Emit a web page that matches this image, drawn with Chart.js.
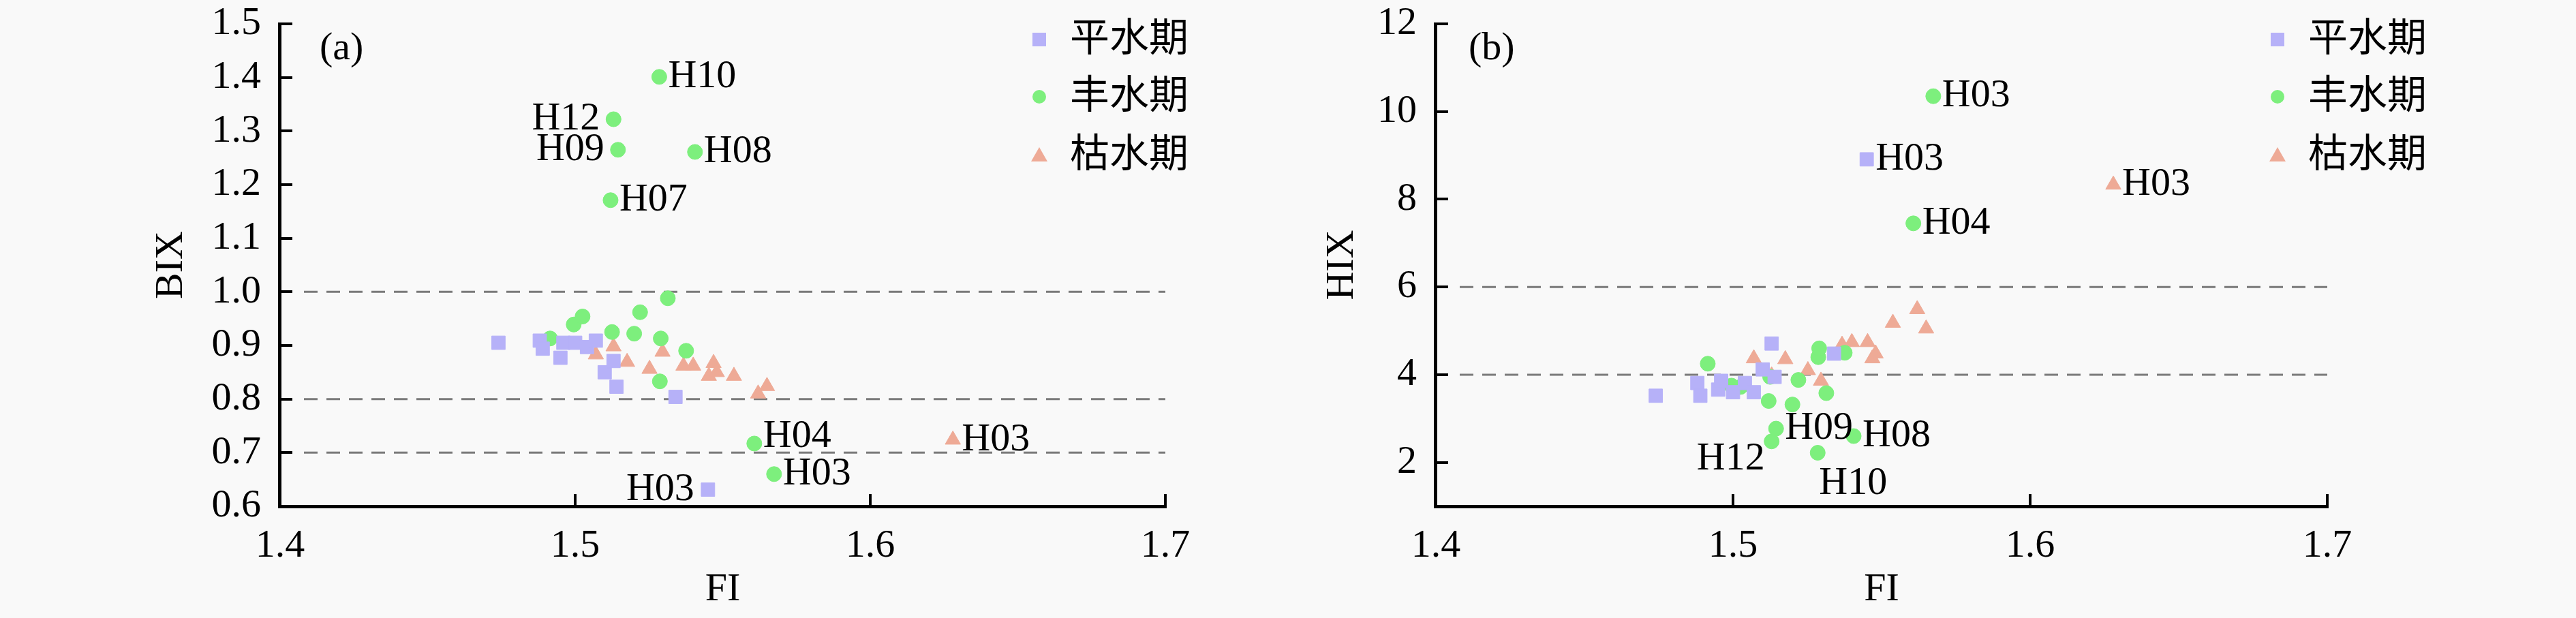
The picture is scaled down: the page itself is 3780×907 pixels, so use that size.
<!DOCTYPE html>
<html><head><meta charset="utf-8">
<script src="https://cdn.jsdelivr.net/npm/chart.js@4.4.0/dist/chart.umd.min.js"></script>
<style>
html,body{margin:0;padding:0;background:#f9f9f9;}
#wrap{width:3780px;height:907px;display:flex;}
canvas{display:block;}
</style></head><body>
<div id="wrap"><canvas id="c1" width="1890" height="907"></canvas><canvas id="c2" width="1890" height="907"></canvas></div>
<script>
// ---------- data ----------
const SERIES_NAMES = ['平水期', '丰水期', '枯水期'];
const FI_TICKS  = [1.4, 1.5, 1.6, 1.7];
const BIX_TICKS = [0.6, 0.7, 0.8, 0.9, 1.0, 1.1, 1.2, 1.3, 1.4, 1.5];
const HIX_TICKS = [2, 4, 6, 8, 10, 12];
const BIX_REF = [0.7, 0.8, 1.0];
const HIX_REF = [4, 6];

// 平水期
const FI_P  = [1.474, 1.488, 1.489, 1.495, 1.496, 1.500, 1.504, 1.507, 1.510, 1.513, 1.514, 1.534, 1.545];
const BIX_P = [0.905, 0.909, 0.894, 0.877, 0.905, 0.905, 0.897, 0.909, 0.850, 0.871, 0.823, 0.804, 0.631];
const HIX_P = [3.52, 3.81, 3.52, 3.66, 3.86, 3.60, 3.81, 3.60, 4.12, 4.71, 3.95, 4.48, 8.91];
const LAB_P_BIX = ['', '', '', '', '', '', '', '', '', '', '', '', 'H03'];
const LAB_P_HIX = ['', '', '', '', '', '', '', '', '', '', '', '', 'H03'];

// 丰水期
const FI_F  = [1.4915, 1.4995, 1.5025, 1.512, 1.5125, 1.513, 1.5145, 1.520, 1.522, 1.5285, 1.5287, 1.529, 1.5314, 1.5376, 1.5406, 1.5607, 1.5674];
const BIX_F = [0.913, 0.939, 0.954, 1.171, 0.925, 1.322, 1.265, 0.922, 0.962, 1.401, 0.833, 0.913, 0.988, 0.890, 1.261, 0.717, 0.660];
const HIX_F = [4.25, 3.75, 3.72, 3.40, 3.95, 2.48, 2.77, 3.32, 3.88, 2.22, 4.40, 4.60, 3.58, 4.50, 2.60, 7.45, 10.35];
const LAB_F_BIX = ['', '', '', 'H07', '', 'H12', 'H09', '', '', 'H10', '', '', '', '', 'H08', 'H04', 'H03'];
const LAB_F_HIX = ['', '', '', '', '', 'H12', 'H09', '', '', 'H10', '', '', '', '', 'H08', 'H04', 'H03'];

// 枯水期
const FI_K  = [1.507, 1.513, 1.5176, 1.5252, 1.5296, 1.5367, 1.540, 1.5453, 1.5469, 1.548, 1.5538, 1.562, 1.565, 1.628];
const BIX_K = [0.883, 0.898, 0.869, 0.856, 0.888, 0.862, 0.862, 0.843, 0.867, 0.850, 0.843, 0.810, 0.824, 0.724];
const HIX_K = [4.37, 3.98, 4.35, 4.10, 3.86, 4.68, 4.74, 4.74, 4.37, 4.48, 5.18, 5.49, 5.05, 8.33];
const LAB_K_BIX = ['', '', '', '', '', '', '', '', '', '', '', '', '', 'H03'];
const LAB_K_HIX = ['', '', '', '', '', '', '', '', '', '', '', '', '', 'H03'];

// ---------- styles ----------
const FONT = "'Liberation Serif','Times New Roman','Noto Sans CJK SC',serif";
const COLORS = ['#b6b1f8', '#7def7d', '#eeaa96'];
const STYLES = ['rect', 'circle', 'triangle'];
const RADII = [14, 11, 13];

function pts(xs, ys) { return xs.map((x, i) => ({x: x, y: ys[i]})); }

function drawAxes(c) {
  const ctx = c.ctx, ca = c.chartArea, xs = c.scales.x, ys = c.scales.y;
  ctx.save();
  ctx.fillStyle = '#000';
  const L = Math.round(ca.left), B = Math.round(ca.bottom), T = Math.round(ca.top), R = Math.round(ca.right);
  ctx.fillRect(L - 3, T - 2, 5, B - T + 4);
  ctx.fillRect(L - 3, B - 2, R - L + 5, 5);
  xs.ticks.forEach(t => {
    const px = Math.round(xs.getPixelForValue(t.value));
    if (px > L + 5) ctx.fillRect(px - 2, B - 18, 4, 18);
  });
  ys.ticks.forEach(t => {
    const py = Math.round(ys.getPixelForValue(t.value));
    if (py < B - 5) ctx.fillRect(L, py - 2, 18, 4);
  });
  ctx.restore();
}

const bgPlugin = {
  id: 'bgfill',
  beforeDraw(c) { const ctx = c.ctx; ctx.save(); ctx.fillStyle = '#f9f9f9'; ctx.fillRect(0, 0, c.width, c.height); ctx.restore(); }
};

const refPlugin = {
  id: 'refLines',
  beforeDatasetsDraw(c, a, o) {
    const ctx = c.ctx, ys = c.scales.y, ca = c.chartArea;
    ctx.save();
    ctx.strokeStyle = '#7a7a7a'; ctx.lineWidth = 3; ctx.setLineDash([20, 13]);
    o.values.forEach(v => {
      const py = ys.getPixelForValue(v);
      ctx.beginPath(); ctx.moveTo(ca.left + 35, py); ctx.lineTo(ca.right, py); ctx.stroke();
    });
    ctx.restore();
  }
};

const labelPlugin = {
  id: 'ptLabels',
  afterDatasetsDraw(c, a, o) {
    const ctx = c.ctx;
    ctx.save();
    ctx.font = '58px ' + FONT; ctx.fillStyle = '#000'; ctx.textBaseline = 'middle';
    o.labels.forEach((arr, di) => {
      const meta = c.getDatasetMeta(di);
      arr.forEach((txt, i) => {
        if (!txt) return;
        const el = meta.data[i];
        const p = o.place[di + '-' + i] || 'r';
        let x = el.x, y = el.y;
        if (p === 'r') { ctx.textAlign = 'left'; x += 13; }
        else if (p === 'ru') { ctx.textAlign = 'left'; x += 13; y -= 10; }
        else if (p === 'l') { ctx.textAlign = 'right'; x -= 20; }
        else if (p === 'lb') { ctx.textAlign = 'right'; x -= 10; y += 26; }
        else if (p === 'b') { ctx.textAlign = 'left'; x += 2; y += 45; }
        ctx.fillText(txt, x, y);
      });
    });
    ctx.restore();
  }
};

const legendPlugin = {
  id: 'myLegend',
  afterDraw(c, a, o) {
    const ctx = c.ctx;
    ctx.save();
    c.data.datasets.forEach((ds, i) => {
      const x = o.x, y = o.ys[i];
      ctx.fillStyle = ds.backgroundColor;
      ctx.beginPath();
      if (ds.pointStyle === 'rect') ctx.rect(x - 10, y - 10, 20, 20);
      else if (ds.pointStyle === 'circle') ctx.arc(x, y, 10, 0, Math.PI * 2);
      else { ctx.moveTo(x, y - 12); ctx.lineTo(x + 12, y + 9); ctx.lineTo(x - 12, y + 9); ctx.closePath(); }
      ctx.fill();
      ctx.fillStyle = '#000'; ctx.font = '58px ' + FONT; ctx.textBaseline = 'middle'; ctx.textAlign = 'left';
      ctx.fillText(ds.label, o.textX, y + 2);
    });
    ctx.font = '58px ' + FONT; ctx.textAlign = 'left'; ctx.textBaseline = 'middle';
    ctx.fillText(o.tag, o.tagX, o.tagY);
    ctx.restore();
    try { drawAxes(c); } catch (e) {}
  }
};

function makeChart(id, cfg) {
  const datasets = cfg.sets.map((s, i) => ({
    label: SERIES_NAMES[i], data: pts(s.x, s.y),
    pointStyle: STYLES[i], pointRadius: RADII[i],
    backgroundColor: COLORS[i], borderColor: COLORS[i], borderWidth: 1
  }));
  return new Chart(document.getElementById(id), {
    type: 'scatter',
    data: {datasets},
    options: {
      responsive: false, animation: false, devicePixelRatio: 1, events: [],
      layout: {padding: {top: 0, right: cfg.padRight, bottom: 0, left: 0}},
      plugins: {
        legend: {display: false}, tooltip: {enabled: false},
        refLines: {values: cfg.ref},
        ptLabels: {labels: cfg.labels, place: cfg.place},
        myLegend: {x: cfg.legX, textX: cfg.legX + 45, ys: [58, 142, 228], tag: cfg.tag, tagX: cfg.tagX, tagY: 72}
      },
      scales: {
        x: {
          type: 'linear', min: 1.4, max: 1.7,
          afterBuildTicks: s => { s.ticks = FI_TICKS.map(v => ({value: v})); },
          afterFit: s => { s.height = 164; },
          grid: {display: false, drawTicks: false},
          border: {display: false},
          ticks: {color: '#000', font: {size: 58, family: FONT, lineHeight: 1.0}, padding: 30, callback: v => v.toFixed(1), maxRotation: 0},
          title: {display: true, text: 'FI', color: '#000', font: {size: 58, family: FONT}, padding: {top: 0, bottom: 6}}
        },
        y: {
          type: 'linear', min: cfg.ymin, max: cfg.ymax,
          afterBuildTicks: s => { s.ticks = cfg.yticks.map(v => ({value: v})); },
          afterFit: s => { s.width = cfg.yWidth; },
          grid: {display: false, drawTicks: false},
          border: {display: false},
          ticks: {color: '#000', font: {size: 58, family: FONT, lineHeight: 0.24}, padding: 28, callback: cfg.yfmt},
          title: {display: true, text: cfg.ytitle, color: '#000', font: {size: 58, family: FONT}, padding: {top: cfg.yTitlePad, bottom: 0}}
        }
      }
    },
    plugins: [bgPlugin, refPlugin, labelPlugin, legendPlugin]
  });
}

makeChart('c1', {
  sets: [{x: FI_P, y: BIX_P}, {x: FI_F, y: BIX_F}, {x: FI_K, y: BIX_K}],
  labels: [LAB_P_BIX, LAB_F_BIX, LAB_K_BIX],
  place: {'0-12': 'l', '1-5': 'l', '1-6': 'l', '1-15': 'ru'},
  ref: BIX_REF, ymin: 0.6, ymax: 1.5, yticks: BIX_TICKS, yfmt: v => v.toFixed(1),
  ytitle: 'BIX', yWidth: 411, yTitlePad: 217, padRight: 180,
  legX: 1525, tag: '(a)', tagX: 469
});

makeChart('c2', {
  sets: [{x: FI_P, y: HIX_P}, {x: FI_F, y: HIX_F}, {x: FI_K, y: HIX_K}],
  labels: [LAB_P_HIX, LAB_F_HIX, LAB_K_HIX],
  place: {'1-5': 'lb', '1-9': 'b'},
  ref: HIX_REF, ymin: 1, ymax: 12, yticks: HIX_TICKS, yfmt: v => String(v),
  ytitle: 'HIX', yWidth: 217, yTitlePad: 45, padRight: 365,
  legX: 3342 - 1890, tag: '(b)', tagX: 2155 - 1890
});
</script>
</body></html>
